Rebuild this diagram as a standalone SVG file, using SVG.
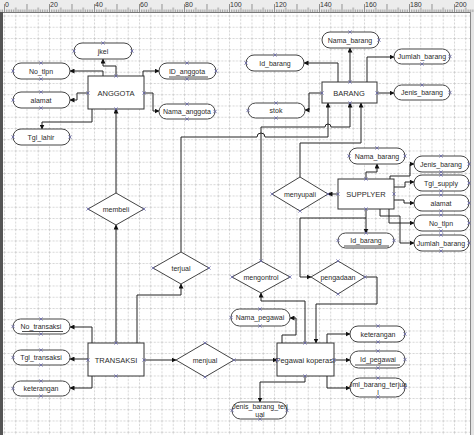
<svg xmlns="http://www.w3.org/2000/svg" width="474" height="435" viewBox="0 0 474 435">
<style>
.ent{fill:#fff;stroke:#333;stroke-width:1}
.att{fill:#fff;stroke:#444;stroke-width:1}
.rel{fill:#fff;stroke:#444;stroke-width:1}
.t{font-family:"Liberation Sans",Arial,sans-serif;font-size:7px;fill:#2a2a2a;text-anchor:middle;dominant-baseline:central}
.te{font-family:"Liberation Sans",Arial,sans-serif;font-size:7.5px;fill:#2a2a2a;text-anchor:middle;dominant-baseline:central}
.ul{stroke:#222;stroke-width:0.8}
.c{fill:none;stroke:#222;stroke-width:1}
.rn{font-family:"Liberation Sans",Arial,sans-serif;font-size:7px;fill:#333}
</style>
<defs>
<pattern id="grid" x="4" y="15.5" width="11.25" height="11.25" patternUnits="userSpaceOnUse">
<path d="M0.5,0 V11.25 M0,0.5 H11.25" fill="none" stroke="#c4c4c4" stroke-width="0.7" stroke-dasharray="2,1.5"/>
</pattern>
<pattern id="ticks" x="4" y="0" width="22.5" height="12" patternUnits="userSpaceOnUse">
<path d="M0.5,4 V12 M2.75,9.5 V12 M5,9.5 V12 M7.25,9.5 V12 M9.5,9.5 V12 M11.75,7.5 V12 M14,9.5 V12 M16.25,9.5 V12 M18.5,9.5 V12 M20.75,9.5 V12" stroke="#555" stroke-width="0.6"/>
</pattern>
<marker id="ar" viewBox="0 0 10 10" refX="9" refY="5" markerWidth="5" markerHeight="5" orient="auto" markerUnits="userSpaceOnUse">
<path d="M0,0 L10,5 L0,10 z" fill="#111"/>
</marker>
<symbol id="x" overflow="visible"><path d="M-1.6,-1.6 L1.6,1.6 M-1.6,1.6 L1.6,-1.6" stroke="#6a6aa8" stroke-width="0.8" fill="none"/></symbol>
</defs>

<rect x="0" y="0" width="474" height="435" fill="#fff"/>
<rect x="3" y="12" width="467" height="423" fill="url(#grid)"/>
<rect x="0" y="0" width="474" height="12" fill="#ececec"/>
<rect x="0" y="0" width="474" height="12" fill="url(#ticks)"/>
<line x1="0" y1="12.5" x2="474" y2="12.5" stroke="#777" stroke-width="1"/>
<g class="rn">
<text x="5" y="7">0</text><text x="50" y="7">20</text><text x="95" y="7">40</text><text x="140" y="7">60</text><text x="185" y="7">80</text><text x="230" y="7">100</text><text x="275" y="7">120</text><text x="320" y="7">140</text><text x="365" y="7">160</text><text x="410" y="7">180</text><text x="455" y="7">200</text>
</g>
<rect x="0" y="12" width="3" height="423" fill="#555"/>
<rect x="470" y="12" width="4" height="423" fill="#e4e4e4"/>
<line x1="470.5" y1="12" x2="470.5" y2="435" stroke="#888" stroke-width="1"/>

<g id="connectors">
<path class="c" marker-end="url(#ar)" d="M116,76 V66 H103 V59"/>
<path class="c" marker-end="url(#ar)" d="M103,76 V71 H70"/>
<path class="c" marker-end="url(#ar)" d="M88,93 H77 V100 H70"/>
<path class="c" marker-end="url(#ar)" d="M92,109 V122 H42 V129"/>
<path class="c" marker-end="url(#ar)" d="M143,76 V71 H159"/>
<path class="c" marker-end="url(#ar)" d="M144,93 H153 V111 H159"/>
<path class="c" marker-end="url(#ar)" d="M116,193 V109"/>
<path class="c" marker-end="url(#ar)" d="M116,343 V225"/>
<path class="c" marker-end="url(#ar)" d="M137,343 V295 H181 V284"/>
<path class="c" marker-end="url(#ar)" d="M181,252 V137 H257 a4,4 0 0 1 8,0 H328 V103"/>
<path class="c" marker-end="url(#ar)" d="M261,261 V127 H325 a3,3 0 0 1 6,0 H350 V103"/>
<path class="c" marker-end="url(#ar)" d="M300,177 V143 H361 V103"/>
<path class="c" marker-end="url(#ar)" d="M350,82 V48"/>
<path class="c" marker-end="url(#ar)" d="M338,82 V63 H304"/>
<path class="c" marker-end="url(#ar)" d="M367,82 V57 H394"/>
<path class="c" marker-end="url(#ar)" d="M377,93 H394"/>
<path class="c" marker-end="url(#ar)" d="M322,93 H309 V110 H305"/>
<path class="c" marker-end="url(#ar)" d="M338,194 H328"/>
<path class="c" marker-end="url(#ar)" d="M366,179 V172 H377 V164"/>
<path class="c" marker-end="url(#ar)" d="M390,179 V176 H410 V164 H414"/>
<path class="c" marker-end="url(#ar)" d="M394,187 H405 V182 H414"/>
<path class="c" marker-end="url(#ar)" d="M394,200 H404 V203 H414"/>
<path class="c" marker-end="url(#ar)" d="M389,209 V223 H414"/>
<path class="c" marker-end="url(#ar)" d="M380,209 V216 H400 V243 H414"/>
<path class="c" marker-end="url(#ar)" d="M366,209 V233"/>
<path class="c" marker-end="url(#ar)" d="M366,218 H300 V277 H311"/>
<path class="c" marker-end="url(#ar)" d="M365,277 H377 V304 H316 V343"/>
<path class="c" marker-end="url(#ar)" d="M305,343 V301 H261 V293"/>
<path class="c" marker-end="url(#ar)" d="M282,343 V335 H296 V318 H290"/>
<path class="c" marker-end="url(#ar)" d="M327,343 V334 H350"/>
<path class="c" marker-end="url(#ar)" d="M334,360 H350"/>
<path class="c" marker-end="url(#ar)" d="M327,376 V388 H350"/>
<path class="c" marker-end="url(#ar)" d="M305,376 V382 H260 V402"/>
<path class="c" marker-end="url(#ar)" d="M92,343 V327 H70"/>
<path class="c" marker-end="url(#ar)" d="M88,359 H70"/>
<path class="c" marker-end="url(#ar)" d="M92,376 V388 H70"/>
<path class="c" marker-end="url(#ar)" d="M144,360 H176"/>
<path class="c" marker-end="url(#ar)" d="M234,360 H277"/>
</g>

<!-- Entities -->
<g id="anggota"><rect class="ent" x="88" y="76" width="56" height="33"/><text class="te" x="116" y="93">ANGGOTA</text>
<use href="#x" x="116" y="76"/><use href="#x" x="116" y="109"/><use href="#x" x="88" y="93"/><use href="#x" x="144" y="93"/></g>
<g id="barang"><rect class="ent" x="322" y="82" width="55" height="21"/><text class="te" x="349" y="93">BARANG</text>
<use href="#x" x="350" y="82"/><use href="#x" x="350" y="103"/><use href="#x" x="322" y="93"/><use href="#x" x="377" y="93"/></g>
<g id="supplyer"><rect class="ent" x="338" y="179" width="56" height="30"/><text class="te" x="366" y="194">SUPPLYER</text>
<use href="#x" x="366" y="179"/><use href="#x" x="366" y="209"/><use href="#x" x="338" y="194"/><use href="#x" x="394" y="194"/></g>
<g id="transaksi"><rect class="ent" x="88" y="343" width="56" height="33"/><text class="te" x="116" y="360">TRANSAKSI</text>
<use href="#x" x="116" y="343"/><use href="#x" x="116" y="376"/><use href="#x" x="88" y="360"/><use href="#x" x="144" y="360"/></g>
<g id="pegawai"><rect class="ent" x="277" y="343" width="57" height="33"/><text class="te" x="305" y="360">Pegawai koperasi</text>
<use href="#x" x="305" y="343"/><use href="#x" x="305" y="376"/><use href="#x" x="277" y="360"/><use href="#x" x="334" y="360"/></g>

<!-- Relationships -->
<g id="membeli"><path class="rel" d="M116,193 L144,209 L116,225 L88,209 Z"/><text class="t" x="116" y="209">membeli</text>
<use href="#x" x="88" y="209"/><use href="#x" x="144" y="209"/></g>
<g id="terjual"><path class="rel" d="M181,252 L209,268 L181,284 L153,268 Z"/><text class="t" x="181" y="268">terjual</text>
<use href="#x" x="153" y="268"/><use href="#x" x="209" y="268"/></g>
<g id="mengontrol"><path class="rel" d="M261,261 L290,277 L261,293 L232,277 Z"/><text class="t" x="261" y="277">mengontrol</text>
<use href="#x" x="232" y="277"/><use href="#x" x="290" y="277"/><use href="#x" x="261" y="261"/></g>
<g id="menyupali"><path class="rel" d="M300,177 L328,194 L300,211 L272,194 Z"/><text class="t" x="300" y="194">menyupali</text>
<use href="#x" x="272" y="194"/><use href="#x" x="300" y="211"/><use href="#x" x="328" y="194"/></g>
<g id="pengadaan"><path class="rel" d="M338,261 L365,277 L338,294 L311,277 Z"/><text class="t" x="338" y="277">pengadaan</text>
<use href="#x" x="338" y="261"/><use href="#x" x="338" y="294"/><use href="#x" x="365" y="277"/></g>
<g id="menjual"><path class="rel" d="M205,343 L234,360 L205,377 L176,360 Z"/><text class="t" x="205" y="360">menjual</text>
<use href="#x" x="205" y="343"/><use href="#x" x="205" y="377"/><use href="#x" x="234" y="360"/></g>

<!-- Attributes -->
<g id="jkel"><rect class="att" x="74" y="43" width="58" height="16" rx="8"/><text class="t" x="103" y="51">jkel</text><use href="#x" x="103" y="43"/><use href="#x" x="74" y="51"/><use href="#x" x="132" y="51"/></g>
<g id="a_no_tlpn"><rect class="att" x="13" y="63" width="57" height="16" rx="8"/><text class="t" x="41" y="71">No_tlpn</text><use href="#x" x="41" y="63"/><use href="#x" x="41" y="79"/><use href="#x" x="13" y="71"/></g>
<g id="a_alamat"><rect class="att" x="13" y="92" width="57" height="16" rx="8"/><text class="t" x="41" y="100">alamat</text><use href="#x" x="41" y="92"/><use href="#x" x="41" y="108"/><use href="#x" x="13" y="100"/></g>
<g id="tgl_lahir"><rect class="att" x="13" y="129" width="57" height="16" rx="8"/><text class="t" x="41" y="137">Tgl_lahir</text><use href="#x" x="13" y="137"/><use href="#x" x="70" y="137"/></g>
<g id="id_anggota"><rect class="att" x="159" y="63" width="57" height="16" rx="8"/><text class="t" x="187" y="71">ID_anggota</text><line class="ul" x1="169" y1="77" x2="208" y2="77"/><use href="#x" x="187" y="63"/><use href="#x" x="187" y="79"/><use href="#x" x="216" y="71"/></g>
<g id="nama_anggota"><rect class="att" x="159" y="104" width="56" height="15" rx="7.5"/><text class="t" x="187" y="111.5">Nama_anggota</text><use href="#x" x="187" y="104"/><use href="#x" x="187" y="119"/><use href="#x" x="215" y="111.5"/></g>

<g id="b_nama_barang"><rect class="att" x="322" y="32" width="57" height="16" rx="8"/><text class="t" x="350" y="40">Nama_barang</text><use href="#x" x="350" y="32"/><use href="#x" x="379" y="40"/></g>
<g id="b_id_barang"><rect class="att" x="246" y="55" width="58" height="16" rx="8"/><text class="t" x="275" y="63">Id_barang</text><use href="#x" x="275" y="55"/><use href="#x" x="246" y="63"/></g>
<g id="b_jumlah_barang"><rect class="att" x="394" y="49" width="56" height="15" rx="7.5"/><text class="t" x="422" y="56.5">Jumlah_barang</text><use href="#x" x="422" y="64"/><use href="#x" x="450" y="56.5"/></g>
<g id="b_jenis_barang"><rect class="att" x="394" y="85" width="56" height="15" rx="7.5"/><text class="t" x="422" y="92.5">Jenis_barang</text><use href="#x" x="422" y="85"/><use href="#x" x="450" y="92.5"/></g>
<g id="stok"><rect class="att" x="248" y="103" width="57" height="15" rx="7.5"/><text class="t" x="276" y="110.5">stok</text><use href="#x" x="276" y="103"/><use href="#x" x="276" y="118"/><use href="#x" x="248" y="110.5"/></g>

<g id="s_nama_barang"><rect class="att" x="349" y="148" width="56" height="16" rx="8"/><text class="t" x="377" y="156">Nama_barang</text><use href="#x" x="377" y="148"/><use href="#x" x="405" y="156"/><use href="#x" x="349" y="156"/></g>
<g id="s_jenis_barang"><rect class="att" x="414" y="156" width="55" height="16" rx="8"/><text class="t" x="441" y="164">Jenis_barang</text><use href="#x" x="441" y="156"/><use href="#x" x="441" y="172"/><use href="#x" x="469" y="164"/></g>
<g id="tgl_supply"><rect class="att" x="414" y="175" width="55" height="16" rx="8"/><text class="t" x="441" y="183">Tgl_supply</text><use href="#x" x="441" y="175"/><use href="#x" x="441" y="191"/><use href="#x" x="469" y="183"/></g>
<g id="s_alamat"><rect class="att" x="414" y="195" width="55" height="16" rx="8"/><text class="t" x="441" y="203">alamat</text><use href="#x" x="441" y="195"/><use href="#x" x="441" y="211"/><use href="#x" x="469" y="203"/></g>
<g id="s_no_tlpn"><rect class="att" x="414" y="215" width="55" height="16" rx="8"/><text class="t" x="441" y="223">No_tlpn</text><use href="#x" x="441" y="215"/><use href="#x" x="441" y="231"/><use href="#x" x="469" y="223"/></g>
<g id="s_jumlah_barang"><rect class="att" x="414" y="235" width="55" height="16" rx="8"/><text class="t" x="441" y="243">Jumlah_barang</text><use href="#x" x="441" y="235"/><use href="#x" x="441" y="251"/><use href="#x" x="469" y="243"/></g>
<g id="s_id_barang"><rect class="att" x="338" y="233" width="56" height="15" rx="7.5"/><text class="t" x="366" y="240.5">Id_barang</text><line class="ul" x1="344" y1="246" x2="389" y2="246"/><use href="#x" x="366" y="233"/><use href="#x" x="338" y="240.5"/><use href="#x" x="394" y="240.5"/></g>

<g id="nama_pegawai"><rect class="att" x="231" y="309" width="59" height="17" rx="8.5"/><text class="t" x="260" y="317.5">Nama_pegawai</text><use href="#x" x="260" y="309"/><use href="#x" x="260" y="326"/><use href="#x" x="231" y="317.5"/></g>
<g id="p_keterangan"><rect class="att" x="350" y="326" width="55" height="16" rx="8"/><text class="t" x="378" y="334">keterangan</text><use href="#x" x="378" y="326"/><use href="#x" x="378" y="342"/><use href="#x" x="405" y="334"/></g>
<g id="id_pegawai"><rect class="att" x="350" y="351" width="55" height="17" rx="8.5"/><text class="t" x="378" y="359">Id_pegawai</text><line class="ul" x1="355" y1="365" x2="400" y2="365"/><use href="#x" x="378" y="351"/><use href="#x" x="378" y="368"/><use href="#x" x="405" y="359.5"/></g>
<g id="jml_barang_terjual"><rect class="att" x="350" y="378" width="55" height="19" rx="9.5"/><text class="t" x="378" y="384">Jml_barang_terjua</text><text class="t" x="378" y="392">l</text><use href="#x" x="378" y="378"/><use href="#x" x="378" y="397"/><use href="#x" x="405" y="387.5"/></g>
<g id="jenis_barang_terjual"><rect class="att" x="232" y="402" width="55" height="17" rx="8.5"/><text class="t" x="260" y="406.5">Jenis_barang_terj</text><text class="t" x="260" y="414.5">ual</text><use href="#x" x="260" y="419"/><use href="#x" x="232" y="410.5"/><use href="#x" x="287" y="410.5"/></g>

<g id="no_transaksi"><rect class="att" x="13" y="319" width="57" height="15" rx="7.5"/><text class="t" x="41" y="326">No_transaksi</text><line class="ul" x1="22" y1="331.5" x2="63" y2="331.5"/><use href="#x" x="41" y="319"/><use href="#x" x="41" y="334"/><use href="#x" x="13" y="326.5"/></g>
<g id="tgl_transaksi"><rect class="att" x="13" y="350" width="57" height="15" rx="7.5"/><text class="t" x="41" y="357.5">Tgl_transaksi</text><use href="#x" x="41" y="350"/><use href="#x" x="41" y="365"/><use href="#x" x="13" y="357.5"/></g>
<g id="t_keterangan"><rect class="att" x="13" y="381" width="57" height="15" rx="7.5"/><text class="t" x="41" y="388.5">keterangan</text><use href="#x" x="41" y="381"/><use href="#x" x="41" y="396"/><use href="#x" x="13" y="388.5"/></g>
</svg>
